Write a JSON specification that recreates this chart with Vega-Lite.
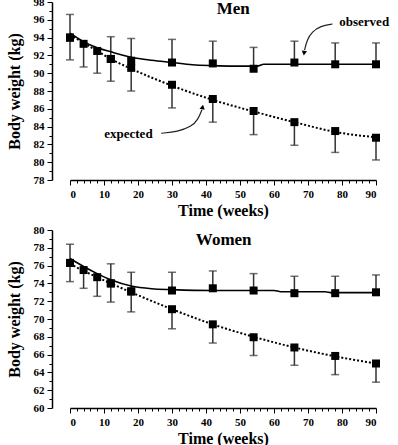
{
  "$schema": "https://vega.github.io/schema/vega-lite/v6.json",
  "padding": {"left": 6, "top": -4, "right": 0, "bottom": 0},
  "spacing": 6,
  "config": {
    "view": {"stroke": null},
    "font": "Liberation Serif",
    "axis": {
      "grid": false,
      "domainColor": "black",
      "domainWidth": 1.5,
      "tickColor": "black",
      "tickWidth": 1,
      "labelColor": "black",
      "labelFont": "Liberation Serif",
      "labelFontSize": 11,
      "labelFontWeight": "bold",
      "labelOverlap": false,
      "titleColor": "black",
      "titleFont": "Liberation Serif",
      "titleFontSize": 16,
      "titleFontWeight": "bold"
    }
  },
  "datasets": {
    "menObsCurve": [
      {"week": 0, "weight": 94.5}, {"week": 4, "weight": 93.55}, {"week": 8, "weight": 92.85},
      {"week": 12, "weight": 92.4}, {"week": 18, "weight": 91.8}, {"week": 24, "weight": 91.45},
      {"week": 30, "weight": 91.2}, {"week": 36, "weight": 90.95}, {"week": 42, "weight": 90.85},
      {"week": 48, "weight": 90.8}, {"week": 55, "weight": 90.8}, {"week": 57, "weight": 91.0},
      {"week": 66, "weight": 91.0}, {"week": 78, "weight": 91.0}, {"week": 90, "weight": 91.0}
    ],
    "menExpCurve": [
      {"week": 0, "weight": 94.3}, {"week": 4, "weight": 93.4}, {"week": 8, "weight": 92.5},
      {"week": 12, "weight": 91.6}, {"week": 18, "weight": 90.5}, {"week": 30, "weight": 88.6},
      {"week": 42, "weight": 87.0}, {"week": 54, "weight": 85.7}, {"week": 66, "weight": 84.5},
      {"week": 78, "weight": 83.4}, {"week": 90, "weight": 82.8}
    ],
    "menObs": [
      {"week": 0, "obs": 94.0, "hi": 96.6}, {"week": 12, "obs": 91.6, "hi": 94.1},
      {"week": 18, "obs": 91.4, "hi": 93.9}, {"week": 30, "obs": 91.2, "hi": 93.8},
      {"week": 42, "obs": 91.1, "hi": 93.6}, {"week": 54, "obs": 90.5, "hi": 92.9},
      {"week": 66, "obs": 91.2, "hi": 93.6}, {"week": 78, "obs": 91.0, "hi": 93.4},
      {"week": 90, "obs": 91.0, "hi": 93.4}
    ],
    "menExp": [
      {"week": 0, "exp": 94.0, "lo": 91.5}, {"week": 4, "exp": 93.3, "lo": 90.7},
      {"week": 8, "exp": 92.5, "lo": 90.0}, {"week": 12, "exp": 91.6, "lo": 89.1},
      {"week": 18, "exp": 90.6, "lo": 88.0}, {"week": 30, "exp": 88.7, "lo": 86.1},
      {"week": 42, "exp": 87.1, "lo": 84.5}, {"week": 54, "exp": 85.75, "lo": 83.1},
      {"week": 66, "exp": 84.5, "lo": 81.9}, {"week": 78, "exp": 83.5, "lo": 81.1},
      {"week": 90, "exp": 82.75, "lo": 80.25}
    ],
    "menObsArrow": [
      {"week": 77.2, "weight": 95.53}, {"week": 73.7, "weight": 95.3}, {"week": 71.2, "weight": 94.66},
      {"week": 69.7, "weight": 93.73}, {"week": 69.0, "weight": 92.6}
    ],
    "menExpArrow": [
      {"week": 26.8, "weight": 83.25}, {"week": 31.7, "weight": 83.43}, {"week": 35.7, "weight": 84.0},
      {"week": 37.6, "weight": 84.74}, {"week": 38.8, "weight": 85.9}
    ],
    "womenObsCurve": [
      {"week": 0, "weight": 76.8}, {"week": 4, "weight": 75.9}, {"week": 8, "weight": 75.1},
      {"week": 12, "weight": 74.4}, {"week": 18, "weight": 73.7}, {"week": 24, "weight": 73.4},
      {"week": 30, "weight": 73.3}, {"week": 42, "weight": 73.2}, {"week": 60, "weight": 73.2},
      {"week": 62, "weight": 73.07}, {"week": 75, "weight": 73.07}, {"week": 77, "weight": 72.96},
      {"week": 90, "weight": 72.96}
    ],
    "womenExpCurve": [
      {"week": 0, "weight": 76.2}, {"week": 4, "weight": 75.4}, {"week": 8, "weight": 74.7},
      {"week": 12, "weight": 74.0}, {"week": 18, "weight": 73.0}, {"week": 30, "weight": 71.1},
      {"week": 42, "weight": 69.4}, {"week": 54, "weight": 68.0}, {"week": 66, "weight": 66.8},
      {"week": 78, "weight": 65.8}, {"week": 90, "weight": 65.0}
    ],
    "womenObs": [
      {"week": 0, "obs": 76.3, "hi": 78.4}, {"week": 12, "obs": 74.0, "hi": 76.2},
      {"week": 18, "obs": 73.1, "hi": 75.25}, {"week": 30, "obs": 73.2, "hi": 75.25},
      {"week": 42, "obs": 73.45, "hi": 75.4}, {"week": 54, "obs": 73.2, "hi": 75.1},
      {"week": 66, "obs": 72.9, "hi": 74.8}, {"week": 78, "obs": 72.9, "hi": 74.8},
      {"week": 90, "obs": 73.0, "hi": 74.95}
    ],
    "womenExp": [
      {"week": 0, "exp": 76.3, "lo": 74.2}, {"week": 4, "exp": 75.5, "lo": 73.45},
      {"week": 8, "exp": 74.7, "lo": 72.55}, {"week": 12, "exp": 74.0, "lo": 71.9},
      {"week": 18, "exp": 73.1, "lo": 70.8}, {"week": 30, "exp": 71.1, "lo": 68.9},
      {"week": 42, "exp": 69.4, "lo": 67.3}, {"week": 54, "exp": 67.95, "lo": 65.9},
      {"week": 66, "exp": 66.8, "lo": 64.8}, {"week": 78, "exp": 65.85, "lo": 63.75},
      {"week": 90, "exp": 65.0, "lo": 62.9}
    ]
  },
  "vconcat": [
    {
      "width": 306,
      "height": 178,
      "layer": [
        {
          "data": {"name": "menObs"},
          "mark": {"type": "rule", "color": "#333333", "strokeWidth": 1.5},
          "encoding": {
            "x": {"field": "week", "type": "quantitative", "scale": {"domain": [0, 90], "nice": false},
              "axis": {"title": "Time (weeks)", "tickCount": 45, "labelExpr": "datum.value % 10 === 0 ? datum.label : ''",
                "tickSize": {"condition": {"test": "datum.value % 10 === 0", "value": 5}, "value": 3},
                "labelPadding": 3, "titlePadding": 3}},
            "y": {"field": "obs", "type": "quantitative", "title": "Body weight (kg)", "scale": {"domain": [78, 98], "nice": false},
              "axis": {"offset": 18, "tickCount": 20, "labelExpr": "datum.value % 2 === 0 ? datum.label : ''",
                "tickSize": {"condition": {"test": "datum.value % 2 === 0", "value": 5}, "value": 3},
                "labelPadding": 3, "titlePadding": 11}},
            "y2": {"field": "hi"}
          }
        },
        {
          "data": {"name": "menObs"},
          "mark": {"type": "tick", "orient": "horizontal", "color": "#333333", "size": 8, "thickness": 1.5},
          "encoding": {
            "x": {"field": "week", "type": "quantitative"},
            "y": {"field": "hi", "type": "quantitative", "title": "Body weight (kg)"}
          }
        },
        {
          "data": {"name": "menExp"},
          "mark": {"type": "rule", "color": "#333333", "strokeWidth": 1.5},
          "encoding": {
            "x": {"field": "week", "type": "quantitative"},
            "y": {"field": "exp", "type": "quantitative", "title": "Body weight (kg)"},
            "y2": {"field": "lo"}
          }
        },
        {
          "data": {"name": "menExp"},
          "mark": {"type": "tick", "orient": "horizontal", "color": "#333333", "size": 8, "thickness": 1.5},
          "encoding": {
            "x": {"field": "week", "type": "quantitative"},
            "y": {"field": "lo", "type": "quantitative", "title": "Body weight (kg)"}
          }
        },
        {
          "data": {"name": "menObsCurve"},
          "mark": {"type": "line", "color": "black", "strokeWidth": 1.6, "interpolate": "monotone"},
          "encoding": {
            "x": {"field": "week", "type": "quantitative"},
            "y": {"field": "weight", "type": "quantitative", "title": "Body weight (kg)"}
          }
        },
        {
          "data": {"name": "menExpCurve"},
          "mark": {"type": "line", "color": "black", "strokeWidth": 2, "strokeDash": [2, 2], "interpolate": "monotone"},
          "encoding": {
            "x": {"field": "week", "type": "quantitative"},
            "y": {"field": "weight", "type": "quantitative", "title": "Body weight (kg)"}
          }
        },
        {
          "data": {"name": "menObs"},
          "mark": {"type": "point", "shape": "square", "filled": true, "color": "black", "opacity": 1, "size": 64},
          "encoding": {
            "x": {"field": "week", "type": "quantitative"},
            "y": {"field": "obs", "type": "quantitative", "title": "Body weight (kg)"}
          }
        },
        {
          "data": {"name": "menExp"},
          "mark": {"type": "point", "shape": "square", "filled": true, "color": "black", "opacity": 1, "size": 64},
          "encoding": {
            "x": {"field": "week", "type": "quantitative"},
            "y": {"field": "exp", "type": "quantitative", "title": "Body weight (kg)"}
          }
        },
        {
          "data": {"name": "menObsArrow"},
          "mark": {"type": "line", "color": "#222222", "strokeWidth": 1.2, "interpolate": "basis"},
          "encoding": {
            "x": {"field": "week", "type": "quantitative"},
            "y": {"field": "weight", "type": "quantitative", "title": "Body weight (kg)"}
          }
        },
        {
          "data": {"name": "menExpArrow"},
          "mark": {"type": "line", "color": "#222222", "strokeWidth": 1.2, "interpolate": "basis"},
          "encoding": {
            "x": {"field": "week", "type": "quantitative"},
            "y": {"field": "weight", "type": "quantitative", "title": "Body weight (kg)"}
          }
        },
        {
          "data": {"values": [{"week": 68.85, "weight": 92.25}]},
          "mark": {"type": "point", "shape": "triangle-down", "filled": true, "color": "black", "opacity": 1, "size": 28, "angle": 8},
          "encoding": {
            "x": {"field": "week", "type": "quantitative"},
            "y": {"field": "weight", "type": "quantitative", "title": "Body weight (kg)"}
          }
        },
        {
          "data": {"values": [{"week": 39.0, "weight": 86.2}]},
          "mark": {"type": "point", "shape": "triangle-up", "filled": true, "color": "black", "opacity": 1, "size": 28, "angle": 12},
          "encoding": {
            "x": {"field": "week", "type": "quantitative"},
            "y": {"field": "weight", "type": "quantitative", "title": "Body weight (kg)"}
          }
        },
        {
          "data": {"values": [{"week": 79.2, "weight": 95.25, "label": "observed"}]},
          "mark": {"type": "text", "align": "left", "baseline": "alphabetic", "font": "Liberation Serif", "fontSize": 13, "fontWeight": "bold", "color": "black"},
          "encoding": {
            "x": {"field": "week", "type": "quantitative"},
            "y": {"field": "weight", "type": "quantitative", "title": "Body weight (kg)"},
            "text": {"field": "label"}
          }
        },
        {
          "data": {"values": [{"week": 24.3, "weight": 82.75, "label": "expected"}]},
          "mark": {"type": "text", "align": "right", "baseline": "alphabetic", "font": "Liberation Serif", "fontSize": 13, "fontWeight": "bold", "color": "black"},
          "encoding": {
            "x": {"field": "week", "type": "quantitative"},
            "y": {"field": "weight", "type": "quantitative", "title": "Body weight (kg)"},
            "text": {"field": "label"}
          }
        },
        {
          "data": {"values": [{"week": 48.0, "weight": 96.7, "label": "Men"}]},
          "mark": {"type": "text", "align": "center", "baseline": "alphabetic", "font": "Liberation Serif", "fontSize": 17, "fontWeight": "bold", "color": "black"},
          "encoding": {
            "x": {"field": "week", "type": "quantitative"},
            "y": {"field": "weight", "type": "quantitative", "title": "Body weight (kg)"},
            "text": {"field": "label"}
          }
        }
      ]
    },
    {
      "width": 306,
      "height": 178,
      "layer": [
        {
          "data": {"name": "womenObs"},
          "mark": {"type": "rule", "color": "#333333", "strokeWidth": 1.5},
          "encoding": {
            "x": {"field": "week", "type": "quantitative", "scale": {"domain": [0, 90], "nice": false},
              "axis": {"title": "Time (weeks)", "tickCount": 45, "labelExpr": "datum.value % 10 === 0 ? datum.label : ''",
                "tickSize": {"condition": {"test": "datum.value % 10 === 0", "value": 5}, "value": 3},
                "labelPadding": 3, "titlePadding": 3}},
            "y": {"field": "obs", "type": "quantitative", "title": "Body weight (kg)", "scale": {"domain": [60, 80], "nice": false},
              "axis": {"offset": 18, "tickCount": 20, "labelExpr": "datum.value % 2 === 0 ? datum.label : ''",
                "tickSize": {"condition": {"test": "datum.value % 2 === 0", "value": 5}, "value": 3},
                "labelPadding": 3, "titlePadding": 11}},
            "y2": {"field": "hi"}
          }
        },
        {
          "data": {"name": "womenObs"},
          "mark": {"type": "tick", "orient": "horizontal", "color": "#333333", "size": 8, "thickness": 1.5},
          "encoding": {
            "x": {"field": "week", "type": "quantitative"},
            "y": {"field": "hi", "type": "quantitative", "title": "Body weight (kg)"}
          }
        },
        {
          "data": {"name": "womenExp"},
          "mark": {"type": "rule", "color": "#333333", "strokeWidth": 1.5},
          "encoding": {
            "x": {"field": "week", "type": "quantitative"},
            "y": {"field": "exp", "type": "quantitative", "title": "Body weight (kg)"},
            "y2": {"field": "lo"}
          }
        },
        {
          "data": {"name": "womenExp"},
          "mark": {"type": "tick", "orient": "horizontal", "color": "#333333", "size": 8, "thickness": 1.5},
          "encoding": {
            "x": {"field": "week", "type": "quantitative"},
            "y": {"field": "lo", "type": "quantitative", "title": "Body weight (kg)"}
          }
        },
        {
          "data": {"name": "womenObsCurve"},
          "mark": {"type": "line", "color": "black", "strokeWidth": 1.6, "interpolate": "monotone"},
          "encoding": {
            "x": {"field": "week", "type": "quantitative"},
            "y": {"field": "weight", "type": "quantitative", "title": "Body weight (kg)"}
          }
        },
        {
          "data": {"name": "womenExpCurve"},
          "mark": {"type": "line", "color": "black", "strokeWidth": 2, "strokeDash": [2, 2], "interpolate": "monotone"},
          "encoding": {
            "x": {"field": "week", "type": "quantitative"},
            "y": {"field": "weight", "type": "quantitative", "title": "Body weight (kg)"}
          }
        },
        {
          "data": {"name": "womenObs"},
          "mark": {"type": "point", "shape": "square", "filled": true, "color": "black", "opacity": 1, "size": 64},
          "encoding": {
            "x": {"field": "week", "type": "quantitative"},
            "y": {"field": "obs", "type": "quantitative", "title": "Body weight (kg)"}
          }
        },
        {
          "data": {"name": "womenExp"},
          "mark": {"type": "point", "shape": "square", "filled": true, "color": "black", "opacity": 1, "size": 64},
          "encoding": {
            "x": {"field": "week", "type": "quantitative"},
            "y": {"field": "exp", "type": "quantitative", "title": "Body weight (kg)"}
          }
        },
        {
          "data": {"values": [{"week": 45.2, "weight": 78.3, "label": "Women"}]},
          "mark": {"type": "text", "align": "center", "baseline": "alphabetic", "font": "Liberation Serif", "fontSize": 17, "fontWeight": "bold", "color": "black"},
          "encoding": {
            "x": {"field": "week", "type": "quantitative"},
            "y": {"field": "weight", "type": "quantitative", "title": "Body weight (kg)"},
            "text": {"field": "label"}
          }
        }
      ]
    }
  ]
}
